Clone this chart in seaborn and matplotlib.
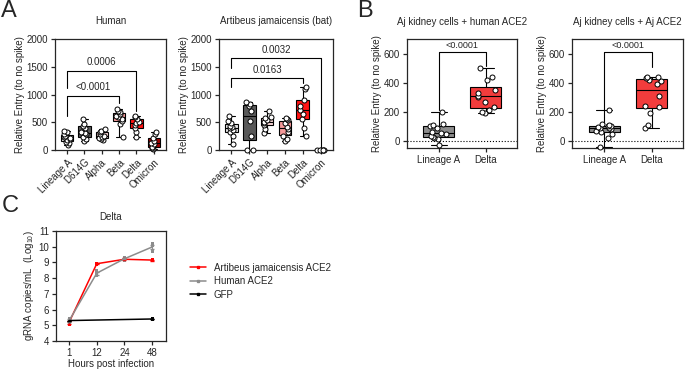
import numpy as np
import pandas as pd
import matplotlib
matplotlib.use("Agg")
from matplotlib import pyplot as plt
from matplotlib.lines import Line2D
import seaborn as sns

# Panel A: entry of variant pseudoviruses (relative to no spike)
variants = ["Lineage A", "D614G", "Alpha", "Beta", "Delta", "Omicron"]
variant_colors = ["#e6e6e6", "#595959", "#f9d6d6", "#f59a9a", "#ff1414", "#a00000"]

human_lineage_a = [95, 120, 150, 180, 200, 220, 240, 260, 290, 320, 350]
human_d614g = [170, 190, 230, 280, 300, 320, 390, 440, 470, 560]
human_alpha = [180, 200, 220, 240, 260, 280, 320, 350, 380]
human_beta = [230, 470, 520, 560, 590, 610, 640, 680, 700, 740]
human_delta = [230, 330, 400, 450, 480, 510, 560, 600, 620]
human_omicron = [20, 40, 60, 100, 130, 170, 220, 280, 320]

bat_lineage_a = [100, 250, 320, 360, 390, 410, 440, 480, 520, 620]
bat_d614g = [0, 0, 250, 520, 700, 800, 830, 860]
bat_alpha = [300, 380, 450, 480, 500, 540, 580, 600, 700]
bat_beta = [170, 200, 260, 330, 380, 420, 480, 540, 560, 570]
bat_delta = [260, 400, 560, 650, 720, 800, 900, 1100, 1130]
bat_omicron = [0, 0, 0, 0, 0, 0]

# Panel B: Aj kidney cells
b_groups = ["Lineage A", "Delta"]
b_colors = ["#8c8c8c", "#f23c3c"]
hace2_lineage_a = [-30, 10, 20, 25, 30, 45, 50, 60, 90, 100, 110, 115, 200]
hace2_delta = [190, 200, 210, 230, 270, 300, 310, 330, 350, 420, 440, 500]
ajace2_lineage_a = [-40, 20, 45, 60, 70, 80, 85, 90, 95, 100, 105, 110, 115, 210]
ajace2_delta = [90, 110, 190, 235, 240, 310, 390, 410, 420, 430, 440, 440]

# Panel C: Delta replication, gRNA copies/mL (log10)
hours = [1, 12, 24, 48]
aj_reps = [[5.05, 5.2, 5.3], [8.9, 8.95, 8.9], [9.1, 9.2, 9.3], [9.1, 9.15, 9.2]]
human_reps = [[5.1, 5.3, 5.45], [8.15, 8.3, 8.5], [9.15, 9.25, 9.3], [9.7, 10.05, 10.2]]
gfp_hours = [1, 48]
gfp_reps = [[5.3, 5.3, 5.3], [5.4, 5.4, 5.4]]
c_groups = ["Artibeus jamaicensis ACE2", "Human ACE2", "GFP"]
c_colors = ["#ff0000", "#8c8c8c", "#000000"]

# significance brackets: (x1, x2, height, left leg end, right leg end, label)
brackets_human = [(0, 3, 980, 620, 840, "<0.0001"), (0, 4, 1430, 1120, 710, "0.0006")]
brackets_bat = [(0, 4, 1300, 1130, 1200, "0.0163"), (0, 5, 1650, 1470, 50, "0.0032")]
brackets_b_human = [(0, 1, 610, 215, 515, "<0.0001")]
brackets_b_aj = [(0, 1, 610, 215, 510, "<0.0001")]

sns.set_style("ticks")
plt.rcParams["font.family"] = ["Liberation Sans", "DejaVu Sans"]
plt.rcParams["font.size"] = 7
plt.rcParams["axes.linewidth"] = 0.9
plt.rcParams["xtick.major.width"] = 0.9
plt.rcParams["ytick.major.width"] = 0.9
plt.rcParams["xtick.major.size"] = 3
plt.rcParams["ytick.major.size"] = 3
plt.rcParams["xtick.major.pad"] = 2
plt.rcParams["ytick.major.pad"] = 2
np.random.seed(3)


def long_df(names, series):
    rows = []
    for name, vals in zip(names, series):
        for v in vals:
            rows.append({"label": name, "value": v})
    return pd.DataFrame(rows)


def box_panel(ax, df, order, colors, width, jitter):
    sns.boxplot(data=df, x="label", y="value", hue="label", order=order, hue_order=order,
                palette=colors, saturation=1, legend=False, whis=(0, 100), width=width,
                linewidth=0.8, linecolor="black", showfliers=False, ax=ax)
    sns.stripplot(data=df, x="label", y="value", order=order, color="white",
                  edgecolor="black", linewidth=0.7, size=3.6, jitter=jitter,
                  clip_on=False, zorder=5, ax=ax)
    ax.set_xlabel("")
    ax.set_ylabel("Relative Entry (to no spike)", fontsize=7, labelpad=1)
    for s in ["top", "right"]:
        ax.spines[s].set_visible(True)


def draw_brackets(ax, brackets, gap, size):
    for x1, x2, h, l1, l2, txt in brackets:
        ax.plot([x1, x1, x2, x2], [l1, h, h, l2], color="black", lw=0.8, zorder=6)
        ax.text((x1 + x2) / 2, h + gap, txt, ha="center", va="bottom", fontsize=size)


fig = plt.figure(figsize=(6.85, 3.71), dpi=100)

# ---- Panel A ----
axA1 = fig.add_axes([0.0803, 0.5957, 0.162, 0.299])
axA2 = fig.add_axes([0.3197, 0.5957, 0.1664, 0.299])
dfA1 = long_df(variants, [human_lineage_a, human_d614g, human_alpha, human_beta,
                          human_delta, human_omicron])
dfA2 = long_df(variants, [bat_lineage_a, bat_d614g, bat_alpha, bat_beta,
                          bat_delta, bat_omicron])
for ax, df, br, title in [(axA1, dfA1, brackets_human, "Human"),
                          (axA2, dfA2, brackets_bat, "Artibeus jamaicensis (bat)")]:
    box_panel(ax, df, variants, variant_colors, 0.7, 0.22)
    draw_brackets(ax, br, 60, 7)
    ax.set_ylim(0, 2000)
    ax.set_yticks([0, 500, 1000, 1500, 2000])
    ax.set_xlim(-0.7, 5.7)
    ax.tick_params(axis="x", labelrotation=45, labelsize=7)
    for lab in ax.get_xticklabels():
        lab.set_ha("right")
        lab.set_rotation_mode("anchor")
    ax.tick_params(axis="y", labelsize=7)
    ax.set_title(title, fontsize=7, pad=11)

# ---- Panel B ----
axB1 = fig.add_axes([0.594, 0.601, 0.1606, 0.2938])
axB2 = fig.add_axes([0.835, 0.601, 0.1620, 0.2938])
dfB1 = long_df(b_groups, [hace2_lineage_a, hace2_delta])
dfB2 = long_df(b_groups, [ajace2_lineage_a, ajace2_delta])
for ax, df, br, title in [(axB1, dfB1, brackets_b_human, "Aj kidney cells + human ACE2"),
                          (axB2, dfB2, brackets_b_aj, "Aj kidney cells + Aj ACE2")]:
    ax.axhline(0, ls=":", color="black", lw=0.8, zorder=0)
    box_panel(ax, df, b_groups, b_colors, 0.66, 0.2)
    draw_brackets(ax, br, 15, 6.5)
    ax.set_ylim(-50, 700)
    ax.set_yticks([0, 200, 400, 600])
    ax.set_xlim(-0.68, 1.66)
    ax.tick_params(labelsize=7)
    ax.set_title(title, fontsize=7, pad=10)

# ---- Panel C ----
axC = fig.add_axes([0.0818, 0.0809, 0.1606, 0.2965])
rows = []
for group, hrs, reps in [(c_groups[0], hours, aj_reps), (c_groups[1], hours, human_reps),
                         (c_groups[2], gfp_hours, gfp_reps)]:
    for h, vals in zip(hrs, reps):
        for v in vals:
            rows.append({"group": group, "pos": hours.index(h), "value": v})
dfC = pd.DataFrame(rows)
sns.lineplot(data=dfC, x="pos", y="value", hue="group", hue_order=c_groups,
             palette=c_colors, estimator="mean", errorbar="se", err_style="bars",
             err_kws={"capsize": 1.5, "elinewidth": 0.8}, lw=1.1, legend=False, ax=axC)
sns.scatterplot(data=dfC, x="pos", y="value", hue="group", hue_order=c_groups,
                palette=c_colors, marker="s", s=5, linewidth=0, legend=False, ax=axC)
axC.set_xlim(-0.47, 3.5)
axC.set_ylim(4, 11)
axC.set_xticks(range(len(hours)))
axC.set_xticklabels([str(h) for h in hours])
axC.set_yticks(range(4, 12))
axC.tick_params(labelsize=7)
axC.set_xlabel("Hours post infection", fontsize=7, labelpad=1)
axC.set_ylabel(r"gRNA copies/mL  (Log$_{\mathregular{10}}$)", fontsize=7, labelpad=2)
axC.set_title("Delta", fontsize=7, pad=8)
for s in ["top", "right"]:
    axC.spines[s].set_visible(True)

handles = [Line2D([0], [0], color=c, lw=1.1, marker="s", markersize=2) for c in c_colors]
fig.legend(handles, c_groups, loc="upper left", bbox_to_anchor=(0.265, 0.315),
           frameon=False, fontsize=7, handlelength=1.6, labelspacing=0.35,
           handletextpad=0.8)

# panel letters
fig.text(0.002, 1.0, "A", fontsize=17, va="top")
fig.text(0.521, 1.0, "B", fontsize=17, va="top")
fig.text(0.002, 0.475, "C", fontsize=17, va="top")

fig.savefig("out.png", dpi=100)
